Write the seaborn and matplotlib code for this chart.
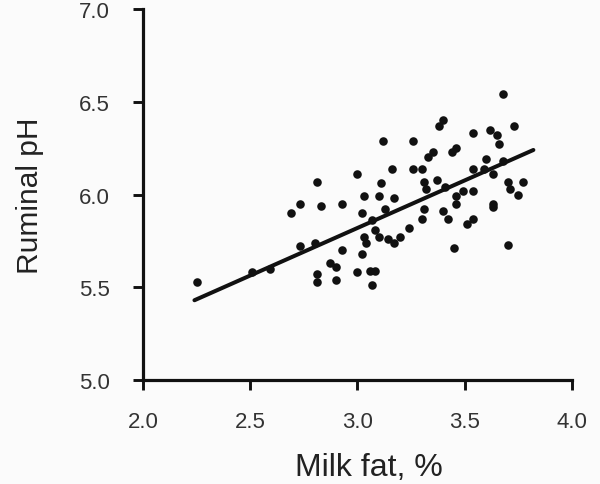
# ruminal pH against milk fat, with fitted line

import matplotlib
matplotlib.use("Agg")
import matplotlib.pyplot as plt
import seaborn as sns
import pandas as pd

milk_fat = [
    2.25, 2.51, 2.59, 2.69, 2.73, 2.83, 2.81, 2.73, 2.80, 2.87,
    2.90, 2.81, 2.81, 2.90, 2.93, 2.93, 3.00, 3.02, 3.02, 3.03,
    3.10, 3.17, 3.13, 3.00, 3.06, 3.08, 3.07, 3.07, 3.08, 3.03,
    3.04, 3.10, 3.14, 3.17, 3.20, 3.24, 3.11, 3.12, 3.16, 3.26,
    3.30, 3.26, 3.31, 3.37, 3.32, 3.31, 3.30, 3.40, 3.42, 3.41,
    3.46, 3.46, 3.45, 3.49, 3.54, 3.51, 3.54, 3.35, 3.33, 3.40,
    3.38, 3.46, 3.44, 3.54, 3.62, 3.65, 3.66, 3.73, 3.68, 3.60,
    3.68, 3.54, 3.59, 3.63, 3.70, 3.77, 3.71, 3.75, 3.63, 3.63,
    3.70,
]
ruminal_ph = [
    5.53, 5.58, 5.60, 5.90, 5.95, 5.94, 6.07, 5.72, 5.74, 5.63,
    5.61, 5.57, 5.53, 5.54, 5.95, 5.70, 6.11, 5.90, 5.68, 5.99,
    5.99, 5.98, 5.92, 5.58, 5.59, 5.59, 5.51, 5.86, 5.81, 5.77,
    5.74, 5.77, 5.76, 5.74, 5.77, 5.82, 6.06, 6.29, 6.14, 6.14,
    6.14, 6.29, 6.07, 6.08, 6.03, 5.92, 5.87, 5.91, 5.87, 6.04,
    5.99, 5.95, 5.71, 6.02, 6.02, 5.84, 5.87, 6.23, 6.20, 6.40,
    6.37, 6.25, 6.23, 6.33, 6.35, 6.32, 6.27, 6.37, 6.54, 6.19,
    6.18, 6.14, 6.14, 6.11, 6.07, 6.07, 6.03, 6.00, 5.95, 5.93,
    5.73,
]

# regression line end points
fit_x = [2.24, 3.82]
fit_y = [5.43, 6.24]

x_ticks = [2.0, 2.5, 3.0, 3.5, 4.0]
y_ticks = [5.0, 5.5, 6.0, 6.5, 7.0]

df = pd.DataFrame({"Milk fat": milk_fat, "Ruminal pH": ruminal_ph})
fit_df = pd.DataFrame({"x": fit_x, "y": fit_y})

sns.set_style("ticks")
plt.rcParams["font.family"] = ["Liberation Sans", "DejaVu Sans"]

fig = plt.figure(figsize=(6, 4.85), dpi=100)
ax = fig.add_axes([0.2383, 0.2144, 0.715, 0.765])

sns.scatterplot(x="Milk fat", y="Ruminal pH", data=df, ax=ax,
                color="#111111", s=38, linewidth=0, zorder=3)
sns.lineplot(x="x", y="y", data=fit_df, ax=ax, color="#111111",
             linewidth=2.9, zorder=2)

ax.set_xlim(2.0, 4.0)
ax.set_ylim(5.0, 7.0)
ax.set_xticks(x_ticks)
ax.set_yticks(y_ticks)
ax.set_xticklabels([f"{t:.1f}" for t in x_ticks])
ax.set_yticklabels([f"{t:.1f}" for t in y_ticks])

for side in ["top", "right"]:
    ax.spines[side].set_visible(False)
for side in ["left", "bottom"]:
    ax.spines[side].set_linewidth(2.3)
    ax.spines[side].set_color("#111111")
ax.set_facecolor("none")

ax.tick_params(axis="both", direction="out", length=7, width=2.1,
               color="#111111", labelsize=16, labelcolor="#333333")
ax.tick_params(axis="x", pad=15)
ax.tick_params(axis="y", pad=17)

ax.set_xlabel("Milk fat, %", fontsize=23, color="#222222", labelpad=15)
ax.xaxis.label.set_x(0.526)
ax.set_ylabel("Ruminal pH", fontsize=21.5, color="#222222", labelpad=25)

fig.savefig("out.png", dpi=100, facecolor="#fbfbfb")
